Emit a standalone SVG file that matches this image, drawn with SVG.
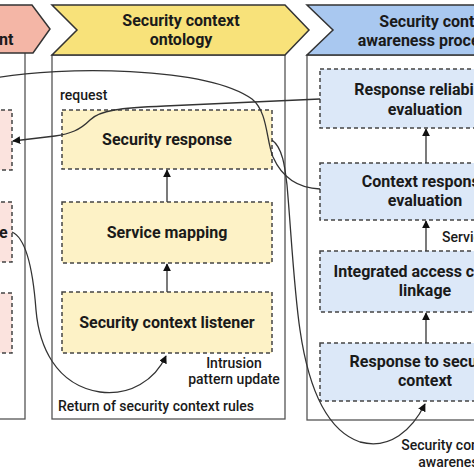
<svg xmlns="http://www.w3.org/2000/svg" width="474" height="474" viewBox="0 0 474 474">
<defs>
<style>
.hdr{stroke:#333;stroke-width:1.5}
.col{fill:#fff;stroke:#555;stroke-width:1.3}
.nd{stroke:#444;stroke-width:1.5;stroke-dasharray:4 3}
.pk{fill:#fbe3de}
.yl{fill:#fdf2c6}
.bl{fill:#dce8f8}
.t{font-family:Roboto,"Liberation Sans",sans-serif;font-weight:bold;font-size:16px;fill:#1a1a1a;text-anchor:middle}
.lb{font-family:Roboto,"Liberation Sans",sans-serif;font-weight:500;font-size:14px;fill:#1a1a1a}
.cn{fill:none;stroke:#333;stroke-width:1.3}
</style>
<marker id="ah" viewBox="0 0 10 10" refX="9" refY="5" markerWidth="8" markerHeight="8" markerUnits="userSpaceOnUse" orient="auto">
<path d="M0,0 L10,5 L0,10 z" fill="#111"/>
</marker>
</defs>
<rect width="474" height="474" fill="#fff"/>

<g id="col-left">
<rect class="col" x="-20" y="52" width="45" height="367"/>
<polygon class="hdr" fill="#f4b6a6" points="-20,5 32,5 50,29 33,53 -20,53"/>
<text class="t" x="-1" y="45" style="text-anchor:start">nt</text>
</g>
<g id="col-mid">
<rect class="col" x="52" y="55" width="233" height="364"/>
<polygon class="hdr" fill="#f8e27a" points="52,5 285,5 309,30 285,55 52,55 77,30"/>
<text class="t" x="181" y="26">Security context</text>
<text class="t" x="181" y="45">ontology</text>
</g>
<g id="col-right">
<rect class="col" x="307" y="55" width="200" height="365"/>
<polygon class="hdr" fill="#a9c8f0" points="307,5 490,5 490,55 307,55 333,30"/>
<text class="t" x="438" y="27">Security context</text>
<text class="t" x="438" y="46">awareness processing</text>
</g>

<g id="pink-node-1"><rect class="nd pk" x="-20" y="110" width="32" height="60"/></g>
<g id="pink-node-2"><rect class="nd pk" x="-20" y="202" width="32" height="60"/><text class="t" x="-1" y="238" style="text-anchor:start">e</text></g>
<g id="pink-node-3"><rect class="nd pk" x="-20" y="293" width="32" height="60"/></g>

<g id="security-response"><rect class="nd yl" x="62" y="110" width="210" height="59"/><text class="t" x="167" y="145">Security response</text></g>
<g id="service-mapping"><rect class="nd yl" x="62" y="202" width="210" height="61"/><text class="t" x="167" y="238">Service mapping</text></g>
<g id="security-context-listener"><rect class="nd yl" x="62" y="292" width="210" height="61"/><text class="t" x="167" y="328">Security context listener</text></g>

<g id="response-reliability"><rect class="nd bl" x="320" y="69" width="210" height="59"/><text class="t" x="425" y="95">Response reliability</text><text class="t" x="425" y="115">evaluation</text></g>
<g id="context-response"><rect class="nd bl" x="320" y="163" width="210" height="57"/><text class="t" x="425" y="187">Context response</text><text class="t" x="425" y="206">evaluation</text></g>
<g id="integrated-access"><rect class="nd bl" x="320" y="251" width="210" height="61"/><text class="t" x="425" y="277">Integrated access control</text><text class="t" x="425" y="296">linkage</text></g>
<g id="response-to-security"><rect class="nd bl" x="320" y="343" width="210" height="58"/><text class="t" x="425" y="367">Response to security</text><text class="t" x="425" y="386">context</text></g>

<g id="connectors">
<path class="cn" marker-end="url(#ah)" d="M167,202 L167,170"/>
<path class="cn" marker-end="url(#ah)" d="M167,292 L167,264"/>
<path class="cn" marker-end="url(#ah)" d="M426,163 L426,129"/>
<path class="cn" marker-end="url(#ah)" d="M426,251 L426,221"/>
<path class="cn" marker-end="url(#ah)" d="M426,343 L426,313"/>
<path class="cn" marker-end="url(#ah)" d="M320,99 L165,106 C120,108 100,110 90,120 C80,130 70,134 55,136 L13,141"/>
<path class="cn" d="M-5,78 C60,66 205,66 252,99 C268,112 266,140 273,157 C281,175 295,188 320,189"/>
<path class="cn" marker-end="url(#ah)" d="M272,140 C283,148 285,168 287,185 C291,230 294,290 300,330 C308,385 325,430 360,442 C390,450 412,430 425,404"/>
<path class="cn" marker-end="url(#ah)" d="M12,232 C26,238 33,270 36,310 C39,345 55,385 100,392 C130,396 155,380 166,356"/>
</g>

<g id="labels">
<text class="lb" x="60" y="100">request</text>
<text class="lb" x="234" y="368" style="text-anchor:middle">Intrusion</text>
<text class="lb" x="234" y="384" style="text-anchor:middle">pattern update</text>
<text class="lb" x="58" y="411">Return of security context rules</text>
<text class="lb" x="442" y="242">Service</text>
<text class="lb" x="452" y="450" style="text-anchor:middle">Security context</text>
<text class="lb" x="452" y="467" style="text-anchor:middle">awareness</text>
</g>
</svg>
